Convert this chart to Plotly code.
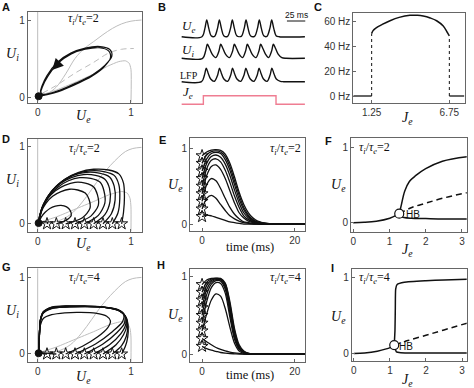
import plotly.graph_objects as go

W, H = 474, 388

# ================= DATA =================
# Panel A: limit cycle (two laps) and nullclines, tau_i/tau_e = 2
A_cycle_ue = [0.01, 0.10, 0.22, 0.40, 0.58, 0.71, 0.78, 0.76, 0.66, 0.51, 0.36, 0.22, 0.11, 0.05, 0.035,
              0.06, 0.12, 0.24, 0.41, 0.59, 0.72, 0.795, 0.775, 0.67, 0.51, 0.355, 0.21, 0.10, 0.045, 0.03,
              0.05, 0.11, 0.23, 0.40]
A_cycle_ui = [0.01, 0.03, 0.07, 0.16, 0.27, 0.39, 0.51, 0.60, 0.64, 0.62, 0.56, 0.44, 0.27, 0.13, 0.06,
              0.035, 0.045, 0.09, 0.18, 0.29, 0.41, 0.53, 0.615, 0.655, 0.635, 0.57, 0.45, 0.28, 0.14, 0.065,
              0.03, 0.04, 0.08, 0.17]
A_sig_ue = [0.0, 0.1, 0.2, 0.3, 0.4, 0.5, 0.6, 0.7, 0.8, 0.9, 1.0, 1.115]
A_sig_ui = [0.0, 0.04, 0.13, 0.30, 0.50, 0.63, 0.72, 0.81, 0.89, 0.95, 0.985, 1.0]
A_dash_ue = [0.05, 0.2, 0.4, 0.6, 0.76, 0.9, 1.03]
A_dash_ui = [0.05, 0.15, 0.31, 0.45, 0.57, 0.62, 0.63]
A_null_ue = [0.02, 0.2, 0.4, 0.6, 0.75, 0.87, 0.94, 0.98, 1.0, 1.0]
A_null_ui = [0.02, 0.09, 0.19, 0.30, 0.40, 0.46, 0.47, 0.44, 0.36, -0.07]

# Panel B: time courses (ms) of Ue, Ui, LFP and input Je
B_ue_t = [0.9, 28.6, 32.6, 35.1, 37.9, 41.1, 45.8, 49.8, 52.3, 55.1, 58.3, 63.5, 67.5, 70.0, 72.8, 76.0, 82.2,
          86.2, 88.7, 91.5, 94.7, 100.3, 104.3, 106.8, 109.6, 112.8, 117.2, 121.2, 123.7, 126.5, 129.7, 134.0, 169.0]
B_ue_v = [0.0, 0.0, 0.5, 1.0, 0.5, 0.06, 0.02, 0.5, 1.0, 0.5, 0.06, 0.02, 0.5, 1.0, 0.5, 0.06, 0.02,
          0.5, 1.0, 0.5, 0.06, 0.02, 0.5, 1.0, 0.5, 0.06, 0.02, 0.5, 1.0, 0.5, 0.06, 0.0, 0.0]
B_ui_t = [0.9, 29.5, 33.5, 36.0, 39.0, 42.5, 47.5, 51.7, 54.2, 57.2, 60.7, 66.0, 70.3, 72.8, 75.8, 79.3, 84.0,
          88.0, 90.5, 93.5, 97.0, 102.2, 106.2, 108.7, 111.7, 115.2, 119.5, 123.5, 126.0, 129.0, 132.5, 137.5,
          143.0, 169.0]
B_ui_v = [0.0, 0.0, 0.5, 1.0, 0.7, 0.3, 0.05, 0.5, 1.0, 0.7, 0.3, 0.05, 0.5, 1.0, 0.7, 0.3, 0.05,
          0.5, 1.0, 0.7, 0.3, 0.05, 0.5, 1.0, 0.7, 0.3, 0.05, 0.5, 1.0, 0.7, 0.3, 0.05, 0.0, 0.0]
B_lfp_t = [0.9, 28.0, 32.0, 34.5, 37.3, 40.5, 45.5, 50.0, 52.5, 55.3, 58.5, 63.5, 67.8, 70.3, 73.1, 76.3, 81.5,
           86.0, 88.5, 91.3, 94.5, 99.5, 104.0, 106.5, 109.3, 112.5, 117.5, 121.5, 124.0, 126.8, 130.0, 135.5,
           140.0, 169.0]
B_lfp_v = [0.0, 0.0, 0.5, 1.0, 0.6, 0.2, 0.03, 0.5, 1.0, 0.6, 0.2, 0.03, 0.5, 1.0, 0.6, 0.2, 0.03,
           0.5, 1.0, 0.6, 0.2, 0.03, 0.5, 1.0, 0.6, 0.2, 0.03, 0.5, 1.0, 0.6, 0.2, 0.03, 0.0, 0.0]
B_je_t = [0.9, 30.5, 30.5, 129.6, 129.6, 169.0]
B_je_v = [0.0, 0.0, 1.0, 1.0, 0.0, 0.0]
B_scale_ms = 25

# Panel C: oscillation frequency vs Je
C_je = [1.25, 1.35, 1.5, 2.0, 2.55, 3.2, 3.96, 4.5, 4.9, 5.4, 5.85, 6.32, 6.6, 6.75]
C_freq = [50.6, 52.8, 54.5, 57.8, 60.8, 63.5, 65.2, 65.2, 64.6, 63.0, 60.8, 56.5, 51.5, 48.5]
C_zero_left = [-0.05, 1.25]
C_zero_right = [6.75, 7.8]
C_xticks = [1.25, 6.75]
C_yticks = [0, 20, 40, 60]

# Phase-plane gray nullclines for D and G
DG_sig_ue = [0.0, 0.2, 0.35, 0.47, 0.58, 0.68, 0.78, 0.87, 0.94, 1.02, 1.115]
DG_sig_ui = [0.0, 0.03, 0.12, 0.27, 0.45, 0.62, 0.76, 0.87, 0.94, 0.98, 0.995]
DG_null_ue = [0.02, 0.2, 0.4, 0.6, 0.77, 0.9, 0.96, 0.99, 1.0, 1.0]
DG_null_ui = [0.02, 0.09, 0.19, 0.29, 0.38, 0.42, 0.40, 0.33, 0.22, -0.1]

# Initial conditions (stars)
U0 = [0.1, 0.2, 0.3, 0.4, 0.5, 0.6, 0.7, 0.8, 0.9]

# Panel D: trajectories, tau ratio 2
D_ue = [
    [0.10, 0.11, 0.09, 0.06, 0.03, 0.01],
    [0.20, 0.31, 0.36, 0.35, 0.31, 0.25, 0.19, 0.13, 0.08, 0.04, 0.02, 0.01],
    [0.30, 0.48, 0.56, 0.55, 0.51, 0.43, 0.34, 0.25, 0.16, 0.09, 0.04, 0.02, 0.01],
    [0.40, 0.57, 0.65, 0.64, 0.60, 0.51, 0.40, 0.29, 0.19, 0.11, 0.05, 0.02, 0.01],
    [0.50, 0.65, 0.72, 0.71, 0.67, 0.57, 0.45, 0.33, 0.22, 0.12, 0.05, 0.02, 0.01],
    [0.60, 0.72, 0.775, 0.77, 0.72, 0.62, 0.49, 0.36, 0.24, 0.13, 0.06, 0.02, 0.01],
    [0.70, 0.79, 0.83, 0.82, 0.77, 0.66, 0.52, 0.38, 0.25, 0.14, 0.06, 0.02, 0.01],
    [0.80, 0.86, 0.88, 0.87, 0.82, 0.71, 0.56, 0.41, 0.27, 0.15, 0.07, 0.02, 0.01],
    [0.90, 0.92, 0.93, 0.92, 0.87, 0.76, 0.60, 0.44, 0.29, 0.16, 0.07, 0.02, 0.01],
]
D_ui = [
    [0.0, 0.015, 0.025, 0.025, 0.015, 0.01],
    [0.00, 0.05, 0.11, 0.17, 0.22, 0.24, 0.23, 0.20, 0.15, 0.09, 0.04, 0.01],
    [0.00, 0.08, 0.20, 0.32, 0.40, 0.44, 0.45, 0.42, 0.36, 0.27, 0.16, 0.06, 0.01],
    [0.00, 0.10, 0.24, 0.38, 0.48, 0.53, 0.54, 0.50, 0.43, 0.33, 0.20, 0.07, 0.01],
    [0.00, 0.11, 0.27, 0.43, 0.54, 0.59, 0.60, 0.56, 0.48, 0.36, 0.22, 0.08, 0.01],
    [0.00, 0.12, 0.29, 0.46, 0.58, 0.63, 0.64, 0.60, 0.52, 0.39, 0.24, 0.09, 0.01],
    [0.00, 0.13, 0.31, 0.49, 0.61, 0.66, 0.67, 0.63, 0.54, 0.41, 0.25, 0.09, 0.01],
    [0.00, 0.14, 0.33, 0.51, 0.63, 0.68, 0.69, 0.65, 0.56, 0.42, 0.26, 0.10, 0.01],
    [0.00, 0.15, 0.35, 0.53, 0.65, 0.70, 0.71, 0.67, 0.58, 0.44, 0.27, 0.10, 0.01],
]

# Panel E: Ue(t), tau ratio 2
E_t = [0, 1, 2, 3, 4, 5, 6, 7, 8, 9, 10, 11, 12, 14, 16, 22.5]
E_ue = [
    [0.10, 0.12, 0.11, 0.09, 0.07, 0.05, 0.03, 0.02, 0.01, 0.0, 0.0, 0.0, 0.0, 0.0, 0.0, 0.0],
    [0.20, 0.34, 0.38, 0.34, 0.26, 0.18, 0.11, 0.07, 0.04, 0.02, 0.01, 0.0, 0.0, 0.0, 0.0, 0.0],
    [0.30, 0.52, 0.60, 0.57, 0.47, 0.34, 0.22, 0.13, 0.07, 0.03, 0.02, 0.01, 0.0, 0.0, 0.0, 0.0],
    [0.40, 0.64, 0.76, 0.78, 0.72, 0.60, 0.44, 0.28, 0.15, 0.08, 0.04, 0.02, 0.01, 0.0, 0.0, 0.0],
    [0.50, 0.73, 0.84, 0.86, 0.82, 0.71, 0.55, 0.37, 0.22, 0.11, 0.06, 0.03, 0.01, 0.0, 0.0, 0.0],
    [0.60, 0.80, 0.89, 0.91, 0.88, 0.79, 0.64, 0.45, 0.28, 0.15, 0.08, 0.04, 0.02, 0.0, 0.0, 0.0],
    [0.70, 0.86, 0.93, 0.945, 0.93, 0.85, 0.71, 0.52, 0.33, 0.19, 0.10, 0.05, 0.02, 0.0, 0.0, 0.0],
    [0.80, 0.91, 0.955, 0.965, 0.95, 0.89, 0.76, 0.57, 0.38, 0.22, 0.12, 0.06, 0.03, 0.01, 0.0, 0.0],
    [0.90, 0.95, 0.975, 0.98, 0.97, 0.92, 0.80, 0.62, 0.42, 0.26, 0.15, 0.08, 0.04, 0.01, 0.0, 0.0],
]

# Panel F: bifurcation diagram, tau ratio 2
F_stable_je = [0.0, 0.3, 0.64, 1.01, 1.2, 1.27]
F_stable_ue = [0.0, 0.005, 0.02, 0.06, 0.1, 0.12]
F_unst_je = [1.27, 1.6, 2.0, 2.5, 3.14]
F_unst_ue = [0.12, 0.2, 0.26, 0.33, 0.40]
F_max_je = [1.27, 1.33, 1.42, 1.55, 1.73, 2.0, 2.46, 3.14]
F_max_ue = [0.12, 0.24, 0.42, 0.55, 0.63, 0.72, 0.82, 0.88]
F_min_je = [1.27, 1.32, 1.4, 1.6, 2.0, 2.5, 3.14]
F_min_ue = [0.12, 0.085, 0.07, 0.06, 0.055, 0.05, 0.05]
F_hb = [1.27, 0.12]

# Panel G: trajectories, tau ratio 4
G_ue = [
    [0.10, 0.06, 0.03, 0.01],
    [0.20, 0.14, 0.09, 0.05, 0.02, 0.01],
    [0.30, 0.48, 0.64, 0.75, 0.78, 0.74, 0.62, 0.46, 0.29, 0.15, 0.06, 0.03, 0.02, 0.015, 0.01],
    [0.40, 0.62, 0.80, 0.91, 0.92, 0.855, 0.70, 0.50, 0.30, 0.15, 0.06, 0.03, 0.02, 0.015, 0.01],
    [0.50, 0.70, 0.85, 0.93, 0.93, 0.86, 0.70, 0.50, 0.30, 0.15, 0.06, 0.03, 0.02, 0.015, 0.01],
    [0.60, 0.77, 0.89, 0.945, 0.935, 0.865, 0.70, 0.50, 0.30, 0.15, 0.06, 0.03, 0.02, 0.015, 0.01],
    [0.70, 0.84, 0.92, 0.955, 0.94, 0.87, 0.70, 0.50, 0.30, 0.15, 0.06, 0.03, 0.02, 0.015, 0.01],
    [0.80, 0.90, 0.95, 0.965, 0.945, 0.875, 0.70, 0.50, 0.30, 0.15, 0.06, 0.03, 0.02, 0.015, 0.01],
    [0.90, 0.94, 0.965, 0.97, 0.95, 0.88, 0.70, 0.50, 0.30, 0.15, 0.06, 0.03, 0.02, 0.015, 0.01],
]
G_ui = [
    [0.0, 0.005, 0.01, 0.01],
    [0.0, 0.005, 0.01, 0.01, 0.01, 0.01],
    [0.00, 0.10, 0.22, 0.34, 0.43, 0.49, 0.53, 0.54, 0.535, 0.51, 0.46, 0.38, 0.26, 0.12, 0.01],
    [0.00, 0.13, 0.29, 0.42, 0.52, 0.58, 0.61, 0.615, 0.61, 0.59, 0.53, 0.43, 0.29, 0.13, 0.01],
    [0.00, 0.13, 0.28, 0.40, 0.51, 0.575, 0.61, 0.615, 0.61, 0.595, 0.535, 0.44, 0.29, 0.13, 0.01],
    [0.00, 0.12, 0.26, 0.39, 0.50, 0.57, 0.61, 0.62, 0.615, 0.60, 0.54, 0.44, 0.29, 0.13, 0.01],
    [0.00, 0.12, 0.25, 0.37, 0.49, 0.565, 0.61, 0.62, 0.62, 0.60, 0.54, 0.44, 0.30, 0.13, 0.01],
    [0.00, 0.11, 0.23, 0.36, 0.48, 0.56, 0.61, 0.62, 0.62, 0.605, 0.545, 0.45, 0.30, 0.13, 0.01],
    [0.00, 0.10, 0.22, 0.35, 0.47, 0.56, 0.61, 0.62, 0.625, 0.61, 0.55, 0.45, 0.30, 0.13, 0.01],
]

# Panel H: Ue(t), tau ratio 4
H_t = [0, 1, 2, 3, 4, 5, 6, 7, 8, 9, 10, 12, 16, 22.5]
H_ue = [
    [0.10, 0.07, 0.05, 0.035, 0.02, 0.012, 0.006, 0.003, 0.0, 0.0, 0.0, 0.0, 0.0, 0.0],
    [0.20, 0.16, 0.12, 0.085, 0.06, 0.04, 0.025, 0.015, 0.01, 0.0, 0.0, 0.0, 0.0, 0.0],
    [0.30, 0.52, 0.70, 0.78, 0.75, 0.59, 0.35, 0.14, 0.04, 0.01, 0.0, 0.0, 0.0, 0.0],
    [0.40, 0.68, 0.86, 0.925, 0.915, 0.79, 0.48, 0.19, 0.06, 0.02, 0.0, 0.0, 0.0, 0.0],
    [0.50, 0.77, 0.905, 0.95, 0.945, 0.84, 0.53, 0.22, 0.07, 0.02, 0.0, 0.0, 0.0, 0.0],
    [0.60, 0.84, 0.935, 0.965, 0.96, 0.87, 0.58, 0.25, 0.08, 0.02, 0.0, 0.0, 0.0, 0.0],
    [0.70, 0.89, 0.955, 0.975, 0.97, 0.89, 0.62, 0.28, 0.09, 0.03, 0.01, 0.0, 0.0, 0.0],
    [0.80, 0.93, 0.97, 0.98, 0.975, 0.91, 0.65, 0.30, 0.10, 0.03, 0.01, 0.0, 0.0, 0.0],
    [0.90, 0.96, 0.98, 0.985, 0.98, 0.92, 0.68, 0.33, 0.12, 0.04, 0.01, 0.0, 0.0, 0.0],
]

# Panel I: bifurcation diagram, tau ratio 4
I_stable_je = [0.0, 0.3, 0.65, 1.02, 1.12]
I_stable_ue = [0.0, 0.005, 0.03, 0.08, 0.11]
I_unst_je = [1.12, 1.5, 2.0, 2.5, 3.14]
I_unst_ue = [0.11, 0.17, 0.24, 0.31, 0.40]
I_max_je = [1.12, 1.14, 1.15, 1.16, 1.2, 1.4, 2.0, 2.5, 3.14]
I_max_ue = [0.11, 0.3, 0.6, 0.85, 0.91, 0.94, 0.96, 0.97, 0.98]
I_min_je = [1.12, 1.15, 1.18, 1.3, 2.0, 3.14]
I_min_ue = [0.11, 0.06, 0.02, 0.01, 0.005, 0.005]
I_hb = [1.12, 0.11]

# ================= STYLE / LAYOUT =================
BLACK = "#111111"
GRAY = "#bdbdbd"
PINK = "#ef7d92"
AXC = "#666666"
TICKFONT = dict(family="Liberation Sans, Arial", size=10, color="#333333")
SERIF = "Liberation Serif, DejaVu Serif, serif"

fig = go.Figure()

# axis boxes in pixels (left, top, right, bottom) and ranges
panels = {
    1: dict(box=(27.7, 11.7, 141.7, 102.7), xr=[-0.107, 1.115], yr=[-0.074, 1.108], xt=[0, 1], yt=[0, 1]),
    2: dict(box=(181.0, 10.0, 306.0, 112.0), xr=[0, 170.5], yr=[0, 102], xt=None, yt=None),
    3: dict(box=(353.3, 12.7, 465.0, 103.3), xr=[-0.05, 7.86], yr=[-5.9, 67.3], xt=C_xticks, yt=C_yticks),
    4: dict(box=(27.7, 138.5, 141.7, 231.5), xr=[-0.107, 1.115], yr=[-0.1, 1.11], xt=[0, 1], yt=[0, 1]),
    5: dict(box=(190.0, 138.3, 305.0, 231.0), xr=[-2.6, 22.2], yr=[-0.09, 1.13], xt=[0, 20], yt=[0, 1]),
    6: dict(box=(351.0, 137.7, 466.7, 231.7), xr=[-0.06, 3.13], yr=[-0.12, 1.133], xt=[0, 1, 2, 3], yt=[0, 1]),
    7: dict(box=(27.7, 268.3, 141.7, 362.0), xr=[-0.107, 1.115], yr=[-0.104, 1.113], xt=[0, 1], yt=[0, 1]),
    8: dict(box=(190.0, 268.7, 305.0, 362.0), xr=[-2.6, 22.2], yr=[-0.103, 1.106], xt=[0, 20], yt=[0, 1]),
    9: dict(box=(351.7, 269.0, 466.7, 361.0), xr=[-0.06, 3.13], yr=[-0.10, 1.115], xt=[0, 1, 2, 3], yt=[0, 1]),
}

layout_axes = {}
for n, p in panels.items():
    l, t, r, b = p["box"]
    xd = [l / W, r / W]
    yd = [1 - b / H, 1 - t / H]
    xk = "xaxis" if n == 1 else f"xaxis{n}"
    yk = "yaxis" if n == 1 else f"yaxis{n}"
    visible = p["xt"] is not None
    common = dict(showgrid=False, zeroline=False, fixedrange=True)
    if visible:
        xt = p["xt"]
        yt = p["yt"]
        xtt = [("%g" % v) for v in xt]
        ytt = [("%g" % v) for v in yt]
        if n == 3:
            ytt = [f"{v} Hz" for v in yt]
        layout_axes[xk] = dict(domain=xd, range=p["xr"], anchor=f"y{'' if n == 1 else n}",
                               showline=True, mirror=True, linecolor=AXC, linewidth=1,
                               ticks="inside", ticklen=3, tickcolor=AXC, tickvals=xt, ticktext=xtt,
                               tickfont=TICKFONT, **common)
        layout_axes[yk] = dict(domain=yd, range=p["yr"], anchor=f"x{'' if n == 1 else n}",
                               showline=True, mirror=True, linecolor=AXC, linewidth=1,
                               ticks="inside", ticklen=3, tickcolor=AXC, tickvals=yt, ticktext=ytt,
                               tickfont=TICKFONT, **common)
    else:
        layout_axes[xk] = dict(domain=xd, range=p["xr"], anchor=f"y{n}", visible=False, **common)
        layout_axes[yk] = dict(domain=yd, range=p["yr"], anchor=f"x{n}", visible=False, **common)


def ax(n):
    return ("x" if n == 1 else f"x{n}"), ("y" if n == 1 else f"y{n}")


def line(n, x, y, color=BLACK, width=1.3, dash=None, shape="linear", smoothing=1.0):
    xa, ya = ax(n)
    ln = dict(color=color, width=width, shape=shape)
    if shape == "spline":
        ln["smoothing"] = smoothing
    if dash:
        ln["dash"] = dash
    fig.add_trace(go.Scatter(x=x, y=y, mode="lines", line=ln, xaxis=xa, yaxis=ya,
                             hoverinfo="skip", showlegend=False, cliponaxis=True))


def markers(n, x, y, symbol, size, color=BLACK, fill=None, lw=1):
    xa, ya = ax(n)
    fig.add_trace(go.Scatter(x=x, y=y, mode="markers",
                             marker=dict(symbol=symbol, size=size, color=fill if fill else color,
                                         line=dict(color=color, width=lw)),
                             xaxis=xa, yaxis=ya, hoverinfo="skip", showlegend=False, cliponaxis=False))


# ---- Panel A ----
yr = panels[1]["yr"]
line(1, [0, 0], yr, GRAY, 1)
line(1, A_sig_ue, A_sig_ui, GRAY, 1, shape="spline")
line(1, A_null_ue, A_null_ui, GRAY, 1, shape="spline", smoothing=0.6)
line(1, A_dash_ue, A_dash_ui, GRAY, 1, dash="6px,4px", shape="spline")
line(1, A_cycle_ue, A_cycle_ui, BLACK, 1.2, shape="spline", smoothing=0.9)
markers(1, [0.01], [0.01], "circle", 7)

# ---- Panel B ----
B_ue_off, B_ue_amp = 75.3, 16.7
B_ui_off, B_ui_amp = 53.7, 14.0
B_lfp_off, B_lfp_amp = 30.3, 13.4
B_je_off, B_je_amp = 7.7, 8.6
line(2, B_ue_t, [B_ue_off + B_ue_amp * v for v in B_ue_v], BLACK, 1.4, shape="spline", smoothing=0.9)
line(2, B_ui_t, [B_ui_off + B_ui_amp * v for v in B_ui_v], BLACK, 1.4, shape="spline", smoothing=0.9)
line(2, B_lfp_t, [B_lfp_off + B_lfp_amp * v for v in B_lfp_v], BLACK, 1.4, shape="spline", smoothing=0.9)
line(2, B_je_t, [B_je_off + B_je_amp * v for v in B_je_v], PINK, 1.4)
line(2, [169.5 - B_scale_ms, 169.5], [91, 91], BLACK, 1)

# ---- Panel C ----
line(3, C_zero_left, [0, 0], "#333333", 1.6)
line(3, C_zero_right, [0, 0], "#333333", 1.6)
line(3, [C_je[0], C_je[0]], [0, C_freq[0]], BLACK, 1, dash="dot")
line(3, [C_je[-1], C_je[-1]], [0, C_freq[-1]], BLACK, 1, dash="dot")
line(3, C_je, C_freq, BLACK, 1.5, shape="spline")

# ---- Panel D ----
yr = panels[4]["yr"]
line(4, [0, 0], yr, GRAY, 1)
line(4, DG_sig_ue, DG_sig_ui, GRAY, 1, shape="spline")
line(4, DG_null_ue, DG_null_ui, GRAY, 1, shape="spline", smoothing=0.6)
for ue, ui in zip(D_ue, D_ui):
    line(4, ue, ui, BLACK, 1.3, shape="spline", smoothing=0.8)
markers(4, [0.01], [0.01], "circle", 7)
markers(4, U0, [0.0] * len(U0), "star-open", 9)

# ---- Panel E ----
for ue in E_ue:
    line(5, E_t, ue, BLACK, 1.3, shape="spline", smoothing=0.8)
markers(5, [0.0] * len(U0), U0, "star-open", 9)

# ---- Panel F ----
line(6, F_stable_je, F_stable_ue, BLACK, 1.5, shape="spline")
line(6, F_unst_je, F_unst_ue, BLACK, 1.5, dash="6px,4px", shape="spline")
line(6, F_max_je, F_max_ue, BLACK, 1.5, shape="spline")
line(6, F_min_je, F_min_ue, BLACK, 1.5, shape="spline")
markers(6, [F_hb[0]], [F_hb[1]], "circle", 9, BLACK, fill="white", lw=1.2)

# ---- Panel G ----
yr = panels[7]["yr"]
line(7, [0, 0], yr, GRAY, 1)
line(7, DG_sig_ue, DG_sig_ui, GRAY, 1, shape="spline")
line(7, DG_null_ue, DG_null_ui, GRAY, 1, shape="spline", smoothing=0.6)
for ue, ui in zip(G_ue, G_ui):
    line(7, ue, ui, BLACK, 1.3, shape="spline", smoothing=0.8)
markers(7, [0.01], [0.01], "circle", 7)
markers(7, U0, [0.0] * len(U0), "star-open", 9)

# ---- Panel H ----
for ue in H_ue:
    line(8, H_t, ue, BLACK, 1.3, shape="spline", smoothing=0.8)
markers(8, [0.0] * len(U0), U0, "star-open", 9)

# ---- Panel I ----
line(9, I_stable_je, I_stable_ue, BLACK, 1.5, shape="spline")
line(9, I_unst_je, I_unst_ue, BLACK, 1.5, dash="6px,4px", shape="spline")
line(9, I_max_je, I_max_ue, BLACK, 1.5, shape="spline", smoothing=0.5)
line(9, I_min_je, I_min_ue, BLACK, 1.5, shape="spline", smoothing=0.5)
markers(9, [I_hb[0]], [I_hb[1]], "circle", 9, BLACK, fill="white", lw=1.2)

# ================= TEXT =================
anns = []


def txt(px, py, text, size=13, family=SERIF, xanchor="center", color=BLACK, bold=False):
    if bold:
        text = f"<b>{text}</b>"
    anns.append(dict(x=px / W, y=1 - py / H, xref="paper", yref="paper", text=text, showarrow=False,
                     xanchor=xanchor, yanchor="middle", font=dict(family=family, size=size, color=color)))


Ue = "<i>U<sub>e</sub></i>"
Ui = "<i>U<sub>i</sub></i>"
Je = "<i>J<sub>e</sub></i>"
tau2 = "<i>τ<sub>i</sub></i>/<i>τ<sub>e</sub></i>=2"
tau4 = "<i>τ<sub>i</sub></i>/<i>τ<sub>e</sub></i>=4"

# panel letters
for letter, (px, py) in {"A": (6, 7), "B": (162, 7), "C": (318, 7), "D": (6, 139), "E": (162, 140),
                         "F": (328, 141), "G": (6, 267), "H": (161, 265), "I": (332, 268)}.items():
    txt(px, py, letter, size=11, family="Liberation Sans, Arial", bold=True)

# A
txt(83, 19, tau2, 12)
txt(12, 55, Ui, 14)
txt(83, 116, Ue, 14)
# B
txt(188, 27, Ue, 13)
txt(188, 51, Ui, 13)
txt(189, 76, "LFP", 10)
txt(188, 92, Je, 13)
txt(296, 15, "25 ms", 8.5, family="Liberation Sans, Arial")
# C
txt(407, 118, Je, 14)
# D
txt(84, 149, tau2, 12)
txt(12, 180, Ui, 14)
txt(83, 244, Ue, 14)
# E
txt(303, 149, tau2, 12, xanchor="right")
txt(175, 185, Ue, 14)
txt(250, 247, "time (ms)", 12.5)
# F
txt(357, 148, tau2, 12, xanchor="left")
txt(338, 185, Ue, 14)
txt(407, 250, Je, 14)
txt(404, 214, "HB", 10, family="Liberation Sans, Arial", xanchor="left")
# G
txt(84, 278, tau4, 12)
txt(12, 311, Ui, 14)
txt(83, 377, Ue, 14)
# H
txt(303, 278, tau4, 12, xanchor="right")
txt(175, 315, Ue, 14)
txt(250, 375, "time (ms)", 12.5)
# I
txt(357, 278, tau4, 12, xanchor="left")
txt(338, 317, Ue, 14)
txt(407, 380, Je, 14)
txt(397, 346, "HB", 10, family="Liberation Sans, Arial", xanchor="left")

# arrow on the limit cycle in A
anns.append(dict(x=0.155, y=0.35, ax=0.24, ay=0.46, xref="x", yref="y", axref="x", ayref="y",
                 showarrow=True, arrowhead=2, arrowsize=1.6, arrowwidth=1.4, arrowcolor=BLACK, text=""))

fig.update_layout(
    width=W, height=H, margin=dict(l=0, r=0, t=0, b=0),
    paper_bgcolor="white", plot_bgcolor="white",
    showlegend=False, annotations=anns, **layout_axes,
)

# remove the browser's default 8px page margin so the figure fills the window exactly
fig.write_html("out.html", config={"displayModeBar": False},
               post_script="document.body.style.margin='0';document.body.style.padding='0';"
                           "document.documentElement.style.overflow='hidden';")
